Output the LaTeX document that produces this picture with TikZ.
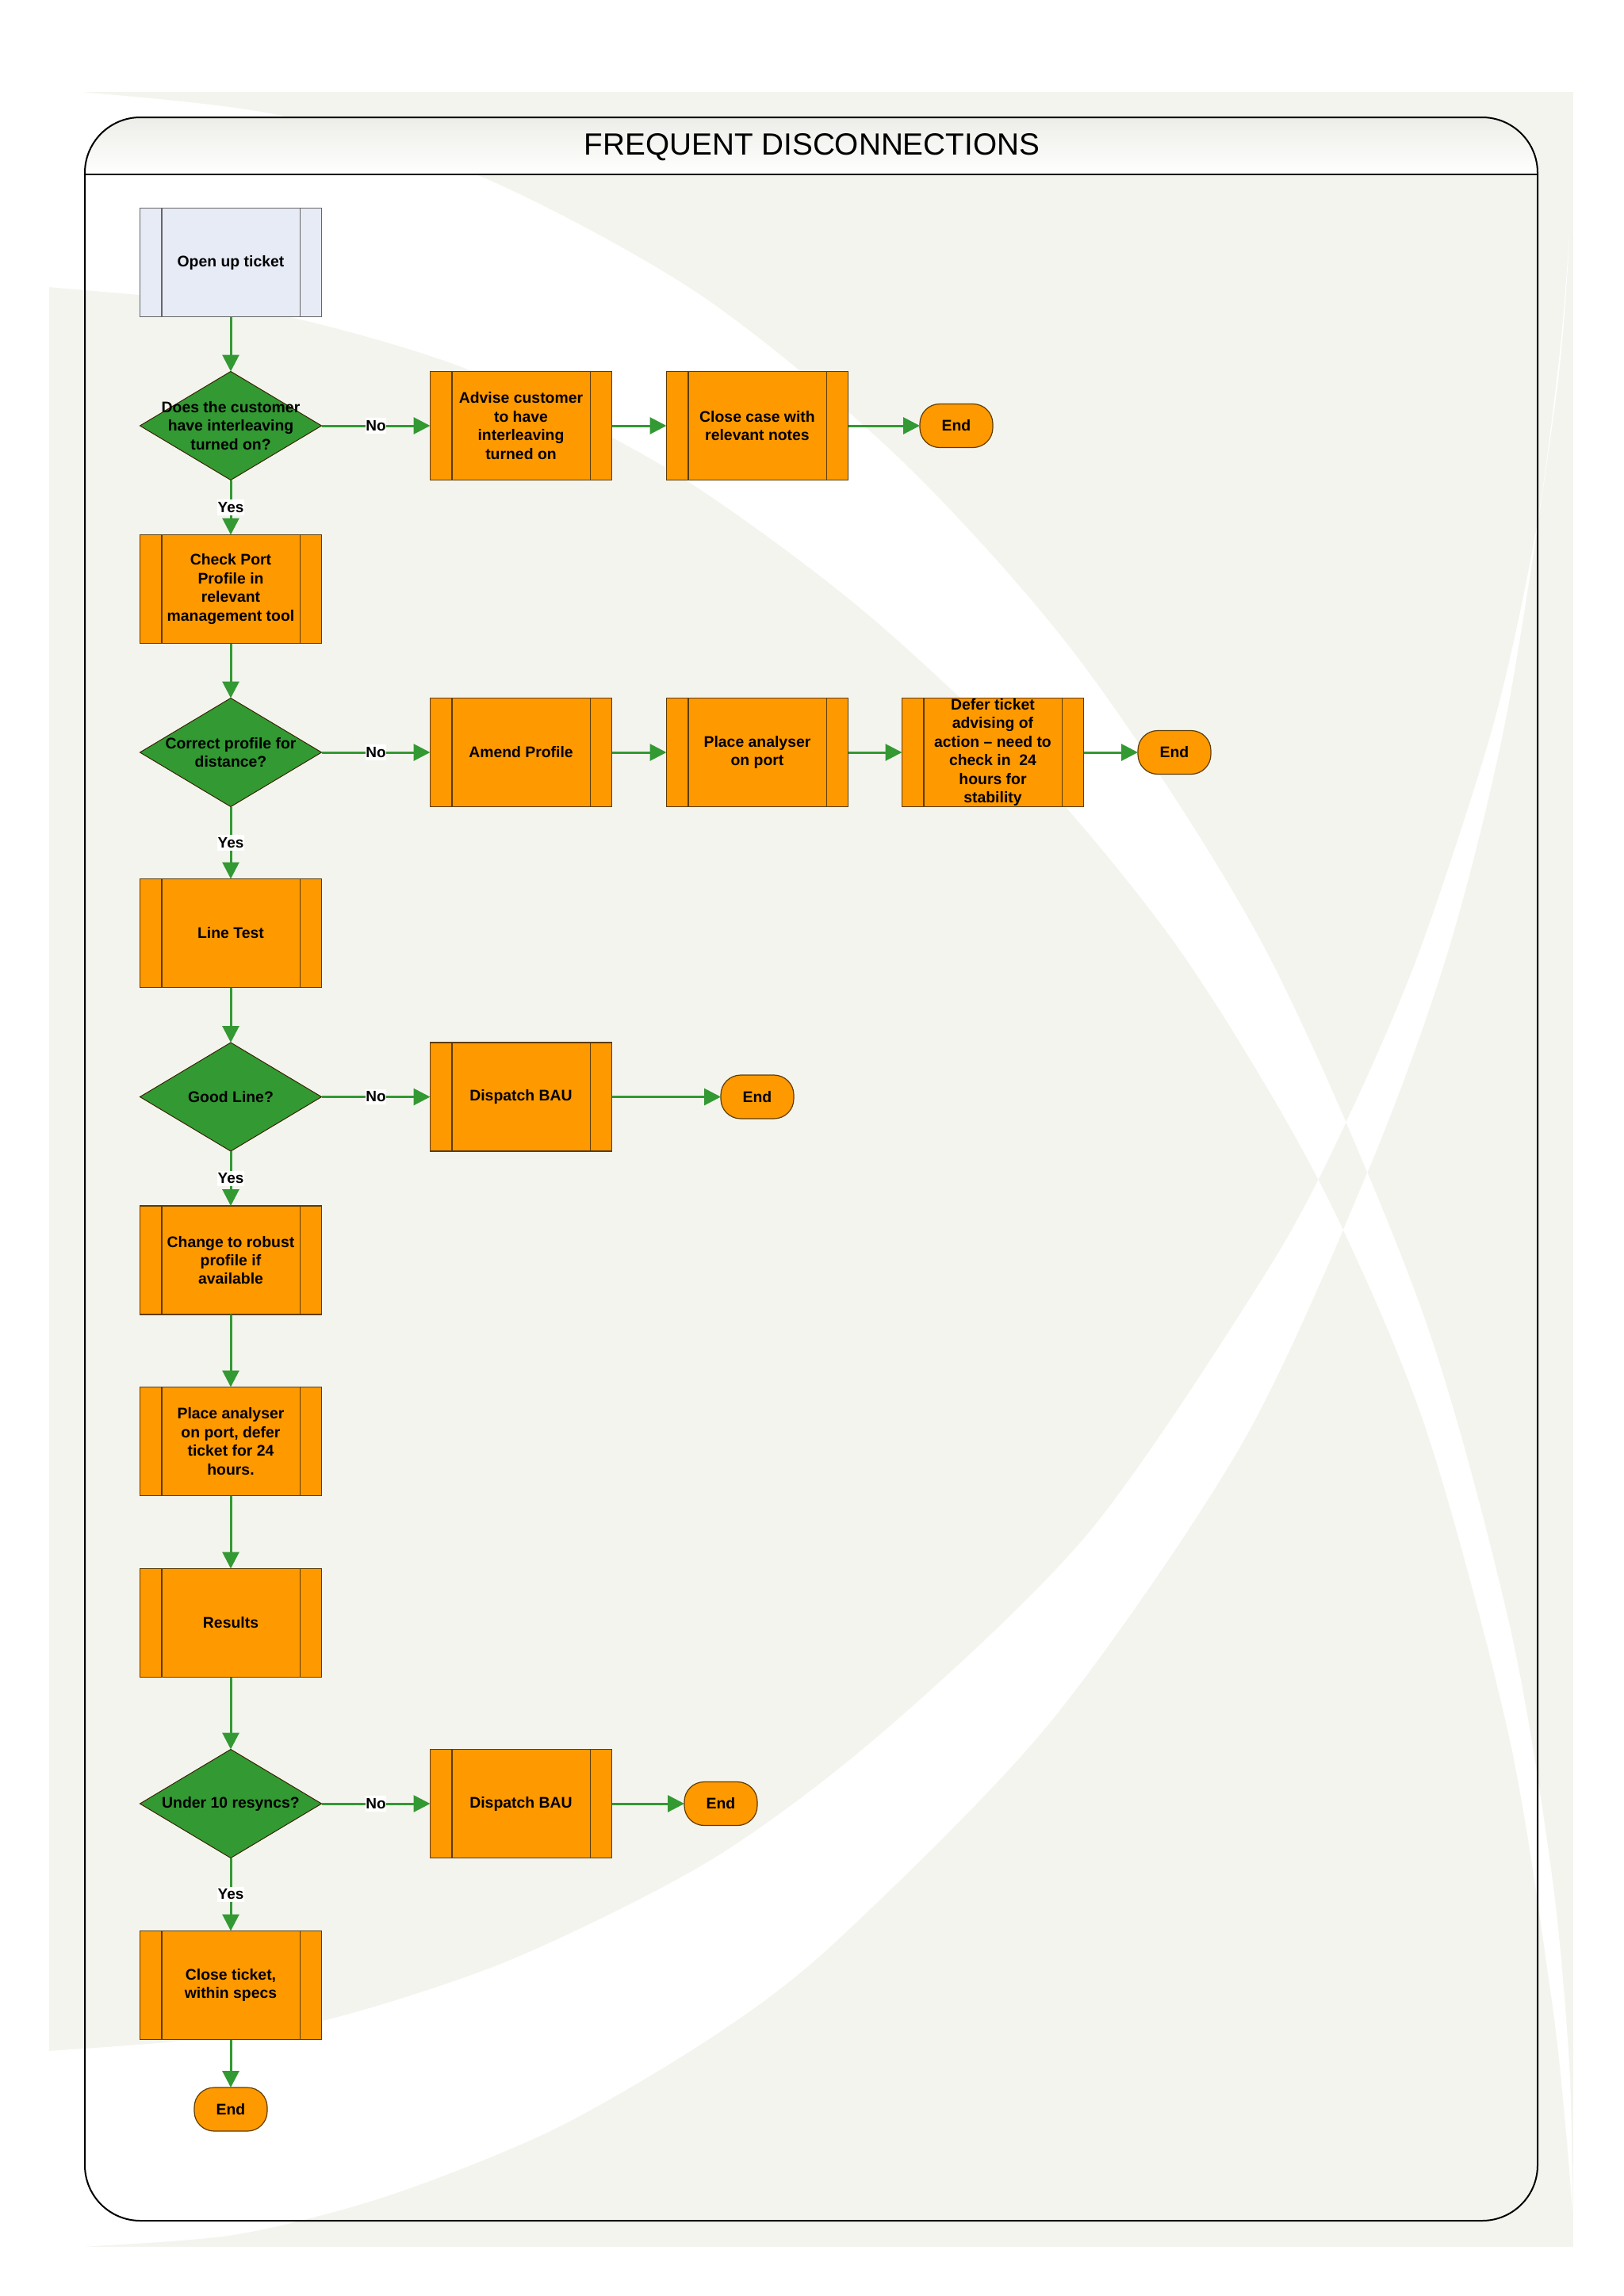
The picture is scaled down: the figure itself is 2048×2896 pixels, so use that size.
\documentclass[tikz,border=0pt]{standalone}
\usepackage{fontspec}
\setmainfont{Liberation Sans}
\usetikzlibrary{arrows.meta,shapes.geometric}

\definecolor{paper}{HTML}{F4F4EF}
\definecolor{flowgreen}{HTML}{339933}
\definecolor{floworange}{HTML}{FF9900}
\definecolor{boxline}{HTML}{5E3C00}
\definecolor{ticketblue}{HTML}{E6EBF6}

\begin{document}
\begin{tikzpicture}[x=0.5pt,y=-0.5pt]

	\tikzset{boxtext/.style = {font=\fontsize{9.7}{11.7}\selectfont\bfseries,align=center}}
	\tikzset{process/.style = {shape=rectangle,draw=#1,line width=0.6pt,fill=floworange,minimum width=114.5pt,minimum height=68.5pt,inner sep=0pt,outer sep=0pt,boxtext,
		path picture={\draw[draw=#1,line width=0.6pt] ([xshift=13.7pt]path picture bounding box.north west) -- ([xshift=13.7pt]path picture bounding box.south west)
			([xshift=-13.7pt]path picture bounding box.north east) -- ([xshift=-13.7pt]path picture bounding box.south east);}},process/.default=boxline}
	\tikzset{ticket/.style = {process=black!60,fill=ticketblue}}
	\tikzset{decision/.style = {shape=diamond,draw=boxline!60!black,line width=0.5pt,fill=flowgreen,minimum width=114.5pt,minimum height=68.5pt,inner sep=0pt,outer sep=0pt}}
	\tikzset{stopnode/.style = {shape=rectangle,rounded corners=12.5pt,draw=boxline,line width=0.6pt,fill=floworange,minimum width=46pt,minimum height=27.5pt,inner sep=0pt,outer sep=0pt,boxtext}}
	\tikzset{edge/.style = {->,> = {Triangle[length=10.5pt,width=10.5pt]},draw=flowgreen,line width=1.5pt}}
	\tikzset{answer/.style = {midway,fill=white,inner xsep=0.3pt,inner ysep=1.6pt,text=black,font=\fontsize{9.5}{11}\selectfont\bfseries}}
	\tikzset{pageframe/.style = {shape=rectangle,rounded corners=35pt,draw=black,line width=1pt,minimum width=916pt,minimum height=1326.5pt,inner sep=0pt,outer sep=0pt}}

	\useasboundingbox (0,0) rectangle (2048,2896);

	\fill[paper] (62,116) rectangle (1984,2834);
	\fill[white,even odd rule]
		plot[smooth] coordinates {(40,113) (103,116) (350,145) (605,222) (883,372) (1138,582) (1367,840) (1597,1200) (1792,1650) (1903,2047) (1957,2365) (1979,2604) (1983,2790)}
		-- plot[smooth] coordinates {(1983,2790) (1975,2690) (1957,2524) (1903,2190) (1795,1793) (1660,1483) (1489,1200) (1300,969) (1080,763) (840,590) (585,464) (320,390) (62,362) (40,360)} -- cycle
		plot[smooth] coordinates {(40,2838) (105,2834) (300,2818) (491,2769) (700,2685) (900,2568) (1055,2448) (1323,2174) (1565,1823) (1726,1475) (1826,1200) (1900,901) (1963,495) (1979,298)}
		-- plot[smooth] coordinates {(1979,298) (1967,445) (1937,670) (1883,915) (1790,1200) (1700,1410) (1600,1600) (1374,1932) (1119,2180) (900,2344) (644,2472) (407,2549) (230,2574) (62,2587) (40,2589)} -- cycle;

	\shade[top color=paper!97!black,bottom color=white] (107,220) [rounded corners=35pt] -- (107,148) -- (1939,148) [sharp corners] -- (1939,220) -- cycle;
	\node[pageframe] (frame) at (1023,1474.5) {};
	\coordinate (hl) at (107,220);
	\coordinate (hr) at (1939,220);
	\draw[line width=1.2pt] (hl) -- (hr);
	\node[font=\fontsize{19.35}{23}\selectfont] (title) at (1024,186) {FREQUENT DISCONNECTIONS};

	\node[ticket] (b1) at (291,331) {Open up ticket};
	\node[decision,label={[boxtext]center:Does the customer\\have interleaving\\turned on?}] (d1) at (291,537) {};
	\node[process] (b2) at (657,537) {Advise customer\\to have\\interleaving\\turned on};
	\node[process] (b3) at (955,537) {Close case with\\relevant notes};
	\node[stopnode] (e1) at (1206,537) {End};
	\node[process] (b4) at (291,743) {Check Port\\Profile in\\relevant\\management tool};
	\node[decision,label={[boxtext]center:Correct profile for\\distance?}] (d2) at (291,949) {};
	\node[process] (b5) at (657,949) {Amend Profile};
	\node[process] (b6) at (955,949) {Place analyser\\on port};
	\node[process] (b7) at (1252,949) {Defer ticket\\advising of\\action – need to\\check in~ 24\\hours for\\stability};
	\node[stopnode] (e2) at (1481,949) {End};
	\node[process] (b8) at (291,1177) {Line Test};
	\node[decision,label={[boxtext]center:Good Line?}] (d3) at (291,1383.5) {};
	\node[process] (b9) at (657,1383.5) {Dispatch BAU};
	\node[stopnode] (e3) at (955,1383.5) {End};
	\node[process] (b10) at (291,1589.5) {Change to robust\\profile if\\available};
	\node[process] (b11) at (291,1818) {Place analyser\\on port, defer\\ticket for 24\\hours.};
	\node[process] (b12) at (291,2047) {Results};
	\node[decision,label={[boxtext]center:Under 10 resyncs?}] (d4) at (291,2275) {};
	\node[process] (b13) at (657,2275) {Dispatch BAU};
	\node[stopnode] (e4) at (909,2275) {End};
	\node[process] (b14) at (291,2504) {Close ticket,\\within specs};
	\node[stopnode] (e5) at (291,2660.5) {End};

	\draw[edge] (b1) to (d1);
	\draw[edge] (d1) -- node[answer] {No} (b2);
	\draw[edge] (b2) to (b3);
	\draw[edge] (b3) to (e1);
	\draw[edge] (d1) -- node[answer] {Yes} (b4);
	\draw[edge] (b4) to (d2);
	\draw[edge] (d2) -- node[answer] {No} (b5);
	\draw[edge] (b5) to (b6);
	\draw[edge] (b6) to (b7);
	\draw[edge] (b7) to (e2);
	\draw[edge] (d2) -- node[answer] {Yes} (b8);
	\draw[edge] (b8) to (d3);
	\draw[edge] (d3) -- node[answer] {No} (b9);
	\draw[edge] (b9) to (e3);
	\draw[edge] (d3) -- node[answer] {Yes} (b10);
	\draw[edge] (b10) to (b11);
	\draw[edge] (b11) to (b12);
	\draw[edge] (b12) to (d4);
	\draw[edge] (d4) -- node[answer] {No} (b13);
	\draw[edge] (b13) to (e4);
	\draw[edge] (d4) -- node[answer] {Yes} (b14);
	\draw[edge] (b14) to (e5);
\end{tikzpicture}
\end{document}
